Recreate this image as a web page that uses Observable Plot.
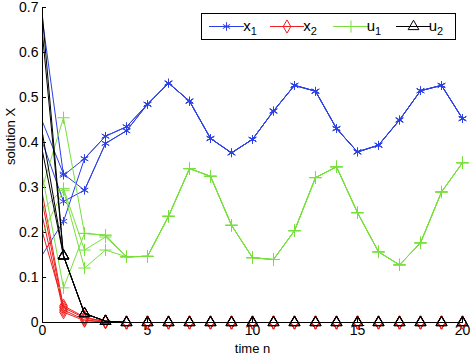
<!DOCTYPE html>
<html>
<head>
<meta charset="utf-8">
<script src="https://cdn.jsdelivr.net/npm/d3@7"></script>
<script src="https://cdn.jsdelivr.net/npm/@observablehq/plot@0.6"></script>
<style>
  html, body { margin: 0; padding: 0; background: #fff; }
  #chart { width: 474px; height: 355px; }
</style>
</head>
<body>
<div id="chart"></div>
<script>
// ---- data ----
const trajectories = ["A", "B", "C", "D"];
const xTicks = [0, 5, 10, 15, 20];
const yTicks = [0, 0.1, 0.2, 0.3, 0.4, 0.5, 0.6, 0.7];

// x1: start values n = 0..4 per trajectory, then shared tail n = 5..20
const x1Start = [
  [0.672, 0.327, 0.364, 0.414, 0.435],
  [0.446, 0.330, 0.294, 0.398, 0.426],
  [0.400, 0.269, 0.294, 0.398, 0.426],
  [0.151, 0.225, 0.364, 0.414, 0.435]
];
const x1Tail = [0.485, 0.532, 0.492, 0.409, 0.377, 0.407, 0.470, 0.527, 0.514, 0.431, 0.379, 0.394, 0.450, 0.515, 0.527, 0.453];

// u1: start values n = 0..4, shared tail n = 5..20
const u1Start = [
  [0.301, 0.455, 0.198, 0.194, 0.146],
  [0.250, 0.298, 0.161, 0.190, 0.146],
  [0.198, 0.294, 0.121, 0.161, 0.146],
  [0.325, 0.077, 0.198, 0.194, 0.146]
];
const u1Tail = [0.147, 0.236, 0.342, 0.325, 0.216, 0.144, 0.140, 0.204, 0.322, 0.346, 0.244, 0.157, 0.128, 0.177, 0.290, 0.355];

// x2: start values n = 0..3, shared tail n = 4..20
const x2Start = [
  [0.285, 0.033, 0.010, 0.002],
  [0.265, 0.028, 0.006, 0.001],
  [0.235, 0.023, 0.004, 0.001],
  [0.200, 0.037, 0.012, 0.002]
];
const x2Tail = [0, 0, 0, 0, 0, 0, 0, 0, 0, 0, 0, 0, 0, 0, 0, 0, 0];

// u2: start values n = 0..3, shared tail n = 4..20
const u2Start = [
  [0.680, 0.148, 0.020, 0.003],
  [0.640, 0.148, 0.020, 0.003],
  [0.420, 0.148, 0.020, 0.003],
  [0.380, 0.148, 0.020, 0.003]
];
const u2Tail = [0, 0, 0, 0, 0, 0, 0, 0, 0, 0, 0, 0, 0, 0, 0, 0, 0];

const seriesColors = ["#2a3fe6", "#f01e1e", "#78e03c", "#000000"];
const seriesSymbols = ["asterisk", "diamond", "plus", "triangle"];

// ---- build tables ----
function build(starts, tail) {
  const rows = [];
  starts.forEach((s, t) => {
    const vals = s.concat(tail);
    vals.forEach((v, i) => rows.push({ n: i, v, traj: trajectories[t] }));
  });
  return rows;
}
const tables = [build(x1Start, x1Tail), build(x2Start, x2Tail), build(u1Start, u1Tail), build(u2Start, u2Tail)];

const font = "'Liberation Sans', Arial, Helvetica, sans-serif";

const seriesMarks = tables.flatMap((rows, k) => [
  Plot.line(rows, { x: "n", y: "v", z: "traj", stroke: seriesColors[k], strokeWidth: 1 }),
  Plot.dot(rows.filter(d => d.n > 0), { x: "n", y: "v", symbol: seriesSymbols[k], r: 4, stroke: seriesColors[k], fill: "none", strokeWidth: 1 })
]);

const chart = Plot.plot({
  width: 474,
  height: 355,
  marginLeft: 42,
  marginRight: 12,
  marginTop: 7,
  marginBottom: 33,
  x: { domain: [0, 20] },
  y: { domain: [0, 0.7] },
  style: { fontFamily: font, fontSize: "14px", color: "#000", background: "#fff", overflow: "visible" },
  marks: [
    Plot.axisX({ ticks: xTicks, tickSize: 0, tickPadding: 3, label: null, fontSize: 14 }),
    Plot.axisY({ ticks: yTicks, tickSize: 0, tickPadding: 4, label: null, fontSize: 14,
                 tickFormat: d => d === 0 ? "0" : d.toFixed(1) }),
    Plot.tickX(xTicks, { x: d => d, insetTop: 311, stroke: "#000" }),
    Plot.tickY(yTicks, { y: d => d, insetRight: 416, stroke: "#000" }),
    ...seriesMarks,
    Plot.ruleX([0], { stroke: "#000" }),
    Plot.ruleY([0], { stroke: "#000" }),
    Plot.text(["time n"], { frameAnchor: "bottom", dy: 26, lineAnchor: "middle", text: d => d, fontSize: 13 }),
    Plot.text(["solution X"], { frameAnchor: "left", dx: -32, rotate: -90, text: d => d, fontSize: 13 })
  ]
});

document.getElementById("chart").appendChild(chart);

// ---- legend ----
const svg = d3.select(chart.tagName.toLowerCase() === "svg" ? chart : chart.querySelector("svg"));
const lg = svg.append("g").attr("font-family", font).attr("font-size", 15);
lg.append("rect").attr("x", 201.5).attr("y", 13.5).attr("width", 254).attr("height", 26)
  .attr("fill", "#fff").attr("stroke", "#000").attr("stroke-width", 1);
const legendItems = [
  { x0: 209, x1: 244, label: "x", sub: "1", tx: 250 },
  { x0: 270, x1: 304, label: "x", sub: "2", tx: 310 },
  { x0: 333, x1: 369, label: "u", sub: "1", tx: 374 },
  { x0: 396, x1: 431, label: "u", sub: "2", tx: 436 }
];
const symMap = { asterisk: d3.symbolAsterisk, diamond: d3.symbolDiamond, plus: d3.symbolPlus, triangle: d3.symbolTriangle };
legendItems.forEach((it, k) => {
  const cy = 26.5;
  lg.append("line").attr("x1", it.x0).attr("x2", it.x1).attr("y1", cy).attr("y2", cy)
    .attr("stroke", seriesColors[k]).attr("stroke-width", 1);
  lg.append("path").attr("d", d3.symbol(symMap[seriesSymbols[k]], Math.PI * 16)())
    .attr("transform", `translate(${(it.x0 + it.x1) / 2},${cy})`)
    .attr("fill", "none").attr("stroke", seriesColors[k]).attr("stroke-width", 1);
  const t = lg.append("text").attr("x", it.tx).attr("y", cy + 4).attr("fill", "#000");
  t.append("tspan").text(it.label);
  t.append("tspan").attr("dy", 4).attr("font-size", 11).text(it.sub);
});
</script>
</body>
</html>
